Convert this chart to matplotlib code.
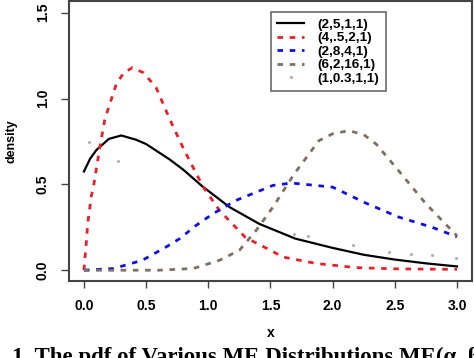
import numpy as np
import matplotlib
matplotlib.use('Agg')
from matplotlib import pyplot as plt

# values
x_black = [0, 0.05, 0.1, 0.2, 0.3, 0.42, 0.5, 0.69, 0.8, 0.95, 1.17, 1.41, 1.7, 2.0, 2.25, 2.5, 2.75, 3.0]
y_black = [0.575, 0.65, 0.70, 0.765, 0.785, 0.76, 0.735, 0.645, 0.585, 0.49, 0.368, 0.27, 0.184, 0.13, 0.09, 0.062, 0.04, 0.022]

x_red = [0, 0.02, 0.03, 0.06, 0.075, 0.128, 0.168, 0.26, 0.32, 0.39, 0.48, 0.58, 0.69, 0.77, 0.82, 0.96, 1.09, 1.3, 1.49, 1.6, 1.87, 2.19, 2.5, 3.0]
y_red = [0, 0.17, 0.27, 0.435, 0.48, 0.716, 0.88, 1.084, 1.15, 1.18, 1.15, 1.065, 0.88, 0.755, 0.68, 0.484, 0.348, 0.19, 0.12, 0.077, 0.039, 0.015, 0.008, 0.005]

x_blue = [0, 0.24, 0.47, 0.66, 0.77, 0.9, 1.04, 1.22, 1.52, 1.67, 2.0, 2.27, 2.53, 2.8, 3.0]
y_blue = [0, 0.01, 0.058, 0.135, 0.184, 0.26, 0.33, 0.406, 0.494, 0.508, 0.484, 0.39, 0.31, 0.25, 0.195]

x_brown = [0, 0.6, 0.88, 1.09, 1.25, 1.385, 1.52, 1.69, 1.89, 2.0, 2.13, 2.25, 2.35, 2.53, 2.75, 3.0]
y_brown = [0, 0, 0.01, 0.058, 0.116, 0.232, 0.368, 0.56, 0.755, 0.795, 0.813, 0.79, 0.735, 0.58, 0.387, 0.2]

x_dots = [0.04, 0.27, 1.69, 1.8, 2.16, 2.45, 2.63, 2.8, 2.99]
y_dots = [0.745, 0.635, 0.213, 0.197, 0.145, 0.106, 0.097, 0.087, 0.074]

labels = ['(2,5,1,1)', '(4,.5,2,1)', '(2,8,4,1)', '(6,2,16,1)', '(1,0.3,1,1)']
xticks = [0.0, 0.5, 1.0, 1.5, 2.0, 2.5, 3.0]
yticks = [0.0, 0.5, 1.0, 1.5]

plt.rcParams['font.family'] = ['Liberation Sans', 'DejaVu Sans']

fig = plt.figure(figsize=(4.74, 3.58), dpi=100)
ax = fig.add_axes([0.1456, 0.215, 0.850, 0.782])

ax.plot(x_black, y_black, color='black', lw=1.6, label=labels[0])
ax.plot(x_red, y_red, color='#e8202a', lw=2.0, dashes=(2.0, 2.4), label=labels[1])
ax.plot(x_blue, y_blue, color='#1010e0', lw=2.0, dashes=(2.0, 2.4), label=labels[2])
ax.plot(x_brown, y_brown, color='#7d7064', lw=2.0, dashes=(2.0, 2.4), label=labels[3])
ax.plot(x_dots, y_dots, linestyle='none', marker='.', markersize=2.5, color='#b0b0b0', label=labels[4])

ax.set_xlim(-0.12, 3.12)
ax.set_ylim(-0.063, 1.568)
ax.set_xticks(xticks)
ax.set_xticklabels(['%.1f' % t for t in xticks], fontweight='bold', fontsize=10)
ax.set_yticks(yticks)
ax.set_yticklabels([])
# rotated y tick labels, R style
for t in yticks:
    ax.text(-0.065, t, '%.1f' % t, transform=ax.get_yaxis_transform(), rotation=90,
            ha='center', va='center', fontweight='bold', fontsize=10, clip_on=False)
ax.tick_params(axis='x', direction='out', length=5, width=1, color='#444444', pad=8)
ax.tick_params(axis='y', direction='out', length=6, width=1, color='#444444')
for s in ax.spines.values():
    s.set_color('#444444')
    s.set_linewidth(1.5)

ax.set_xlabel('x', fontweight='bold', fontsize=10, labelpad=9)
ax.set_ylabel('density', fontweight='bold', fontsize=9)
ax.yaxis.set_label_coords(-0.128, 0.5)

leg = ax.legend(loc='upper left', bbox_to_anchor=(0.502, 0.96), frameon=True, fancybox=False,
                fontsize=9.7, handlelength=2.0, handletextpad=1.0, labelspacing=0.08,
                borderpad=0.45, borderaxespad=0)
leg.get_frame().set_edgecolor('#444444')
leg.get_frame().set_linewidth(1.2)
for t in leg.get_texts():
    t.set_fontweight('bold')

fig.text(0.025, 0.03, '1. The pdf of Various ME Distributions ME(\u03b1, \u03b2', family='Liberation Serif',
         fontweight='bold', fontsize=16.5, va='top', ha='left')

fig.savefig('out.png', dpi=100)
